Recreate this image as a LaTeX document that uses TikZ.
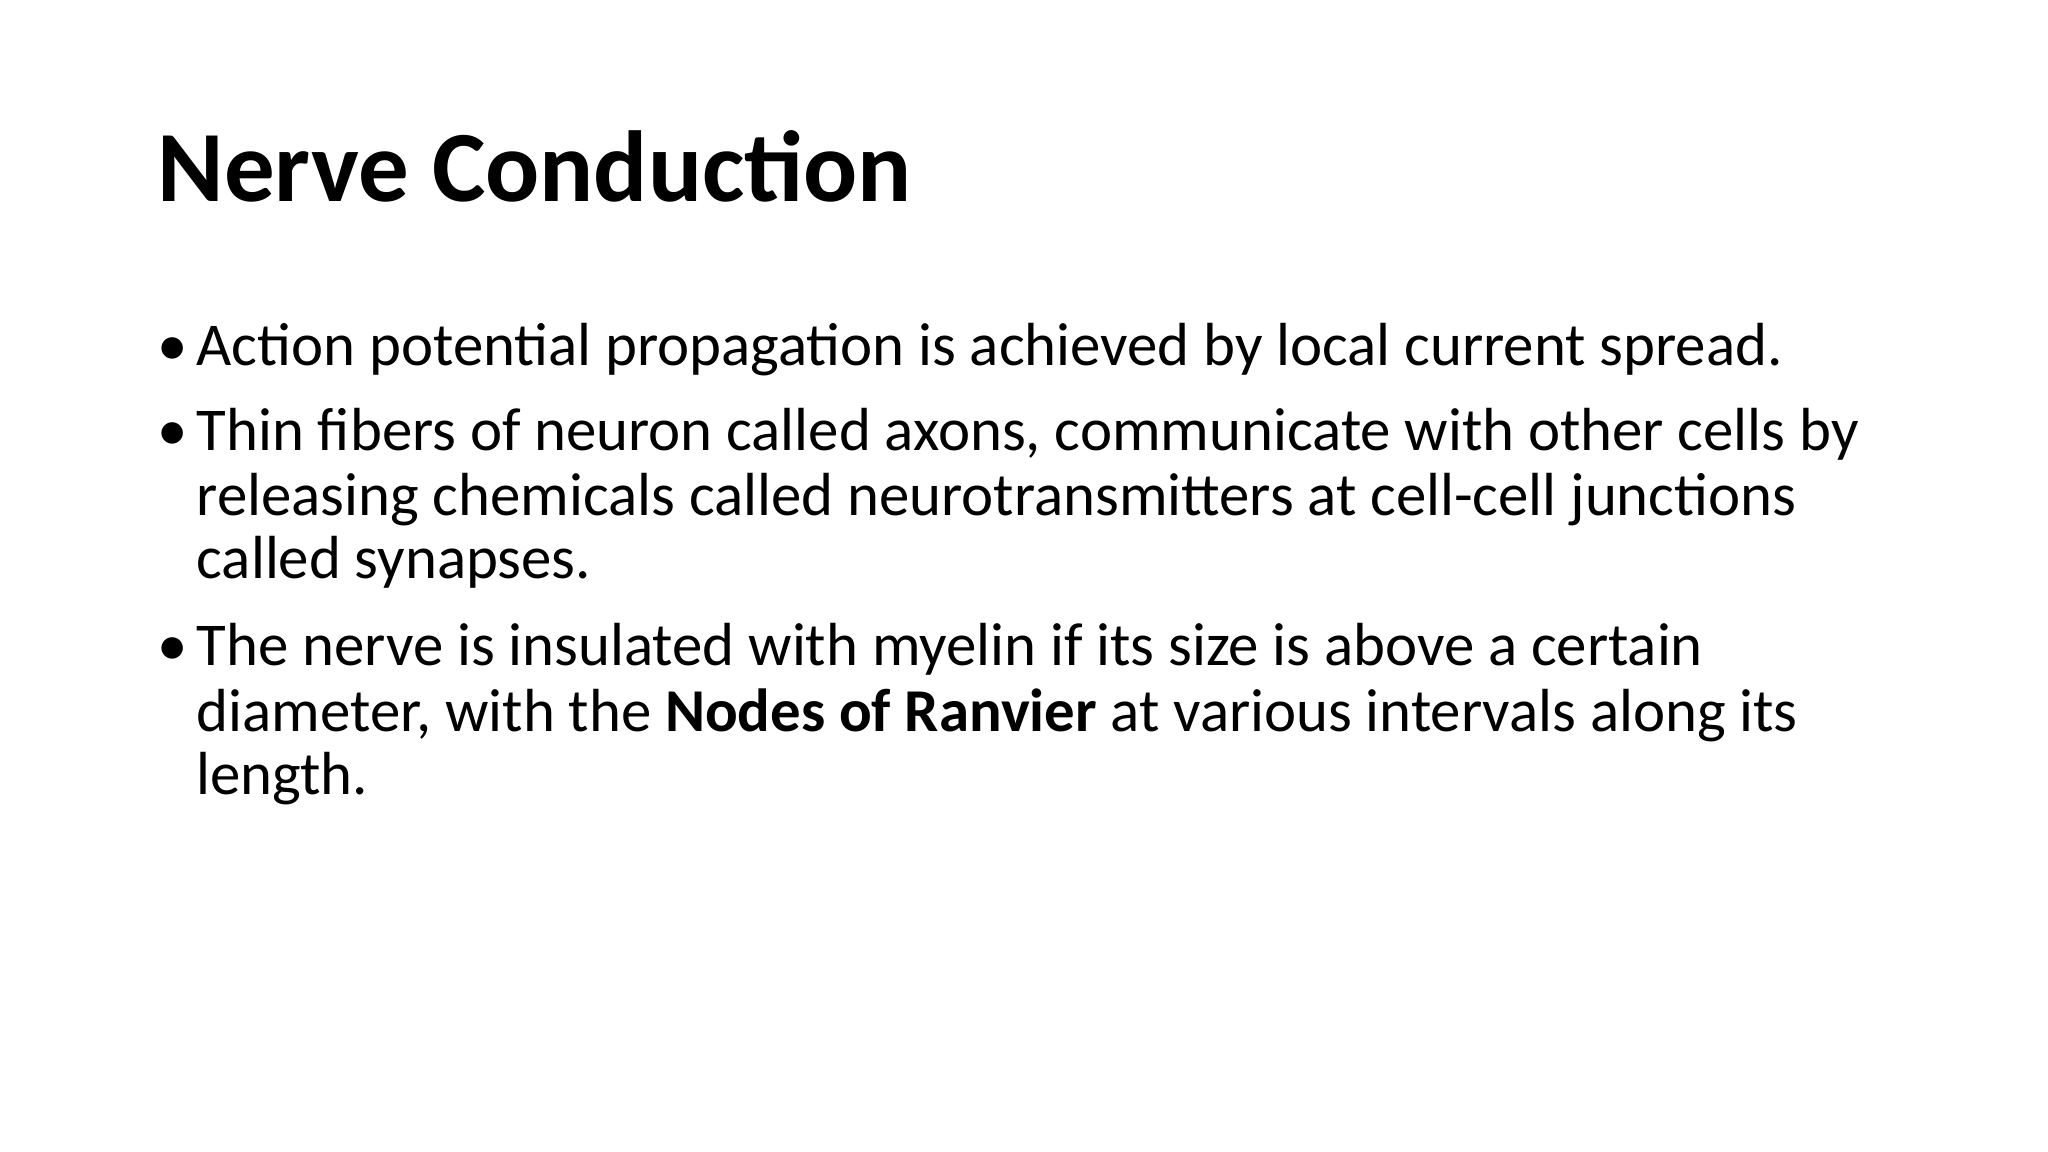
\documentclass[tikz,border=0pt]{standalone}
\usepackage{fontspec}
\setmainfont{Carlito}
\begin{document}
\begin{tikzpicture}[x=0.01cm,y=-0.01cm,
  txt/.style={anchor=base west,inner sep=0pt,font=\fontsize{17.3pt}{18.5pt}\selectfont},
  ttl/.style={anchor=base west,inner sep=0pt,font=\fontsize{28.7pt}{30pt}\selectfont\bfseries}]
\useasboundingbox[fill=white] (0,0) rectangle (2048,1152);
\node[ttl] (title) at (157,202) {Nerve Conduction};
\node[txt] (b1) at (157,366) {•};
\node[txt] (l1) at (196,366) {Action potential propagation is achieved by local current spread.};
\node[txt] (b2) at (157,451) {•};
\node[txt] (l2a) at (196,451) {Thin fibers of neuron called axons, communicate with other cells by};
\node[txt] (l2b) at (196,516) {releasing chemicals called neurotransmitters at cell-cell junctions};
\node[txt] (l2c) at (196,579) {called synapses.};
\node[txt] (b3) at (157,666) {•};
\node[txt] (l3a) at (196,666) {The nerve is insulated with myelin if its size is above a certain};
\node[txt] (l3b) at (196,731) {diameter, with the \textbf{Nodes of Ranvier} at various intervals along its};
\node[txt] (l3c) at (196,794) {length.};
\end{tikzpicture}
\end{document}
